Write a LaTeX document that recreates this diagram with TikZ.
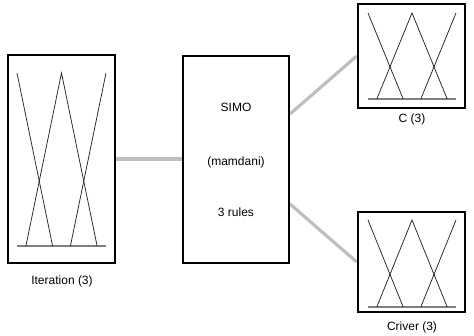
\documentclass[tikz,border=0pt]{standalone}
\usepackage{fontspec}
\setmainfont{Liberation Sans}
\usetikzlibrary{positioning, calc, backgrounds}

\begin{document}
\begin{tikzpicture}[
    x=1pt, y=-1pt,
    font=\fontsize{12}{14}\selectfont,
    blk/.style={
      draw=black, line width=2.6pt, fill=white,
      inner sep=0pt
    },
    mf/.style={line width=0.75pt, black!85},
    mfbase/.style={line width=1.2pt, black!50},
    link/.style={line width=3.2pt, black!25},
    lbl/.style={inner sep=0pt}
  ]
  \useasboundingbox (0,0) rectangle (474,335);

  \node[blk, minimum width=107pt, minimum height=208pt] (iter)   at (61.5,159)  {};
  \node[blk, minimum width=106pt, minimum height=207pt] (simo)   at (236,159.5) {};
  \node[blk, minimum width=107pt, minimum height=104pt] (cout)   at (411.5,56)  {};
  \node[blk, minimum width=107pt, minimum height=100pt] (criver) at (411.5,262) {};

  % links between the blocks
  \coordinate (simoR1) at (290,114);
  \coordinate (simoR2) at (290,204);
  \begin{scope}[on background layer]
    \draw[link] (iter.east |- 0,159) -- (simo.west |- 0,159);
    \draw[link] (simoR1) -- (cout.west);
    \draw[link] (simoR2) -- (criver.west);
  \end{scope}

  % membership functions
  \foreach \xa/\xb/\yt/\yb in {17/106/73/246, 368/456/13/99, 368/456/220/307} {
    \draw[mfbase] (\xa,\yb) -- (\xb,\yb);
    \draw[mf] (\xa,\yt) -- ({\xa+0.4*(\xb-\xa)},\yb);
    \draw[mf] ({\xa+0.1*(\xb-\xa)},\yb) -- ({\xa+0.5*(\xb-\xa)},\yt) -- ({\xa+0.9*(\xb-\xa)},\yb);
    \draw[mf] ({\xa+0.6*(\xb-\xa)},\yb) -- (\xb,\yt);
  }

  \node[lbl] (simoa) at (236,107) {SIMO};
  \node[lbl] (simob) at (236,162) {(mamdani)};
  \node[lbl] (simoc) at (236,212) {3 rules};

  \node[lbl] (iterlbl)   at (62,281)  {Iteration (3)};
  \node[lbl] (coutlbl)   at (412,119) {C (3)};
  \node[lbl] (criverlbl) at (412,327) {Criver (3)};
\end{tikzpicture}
\end{document}
